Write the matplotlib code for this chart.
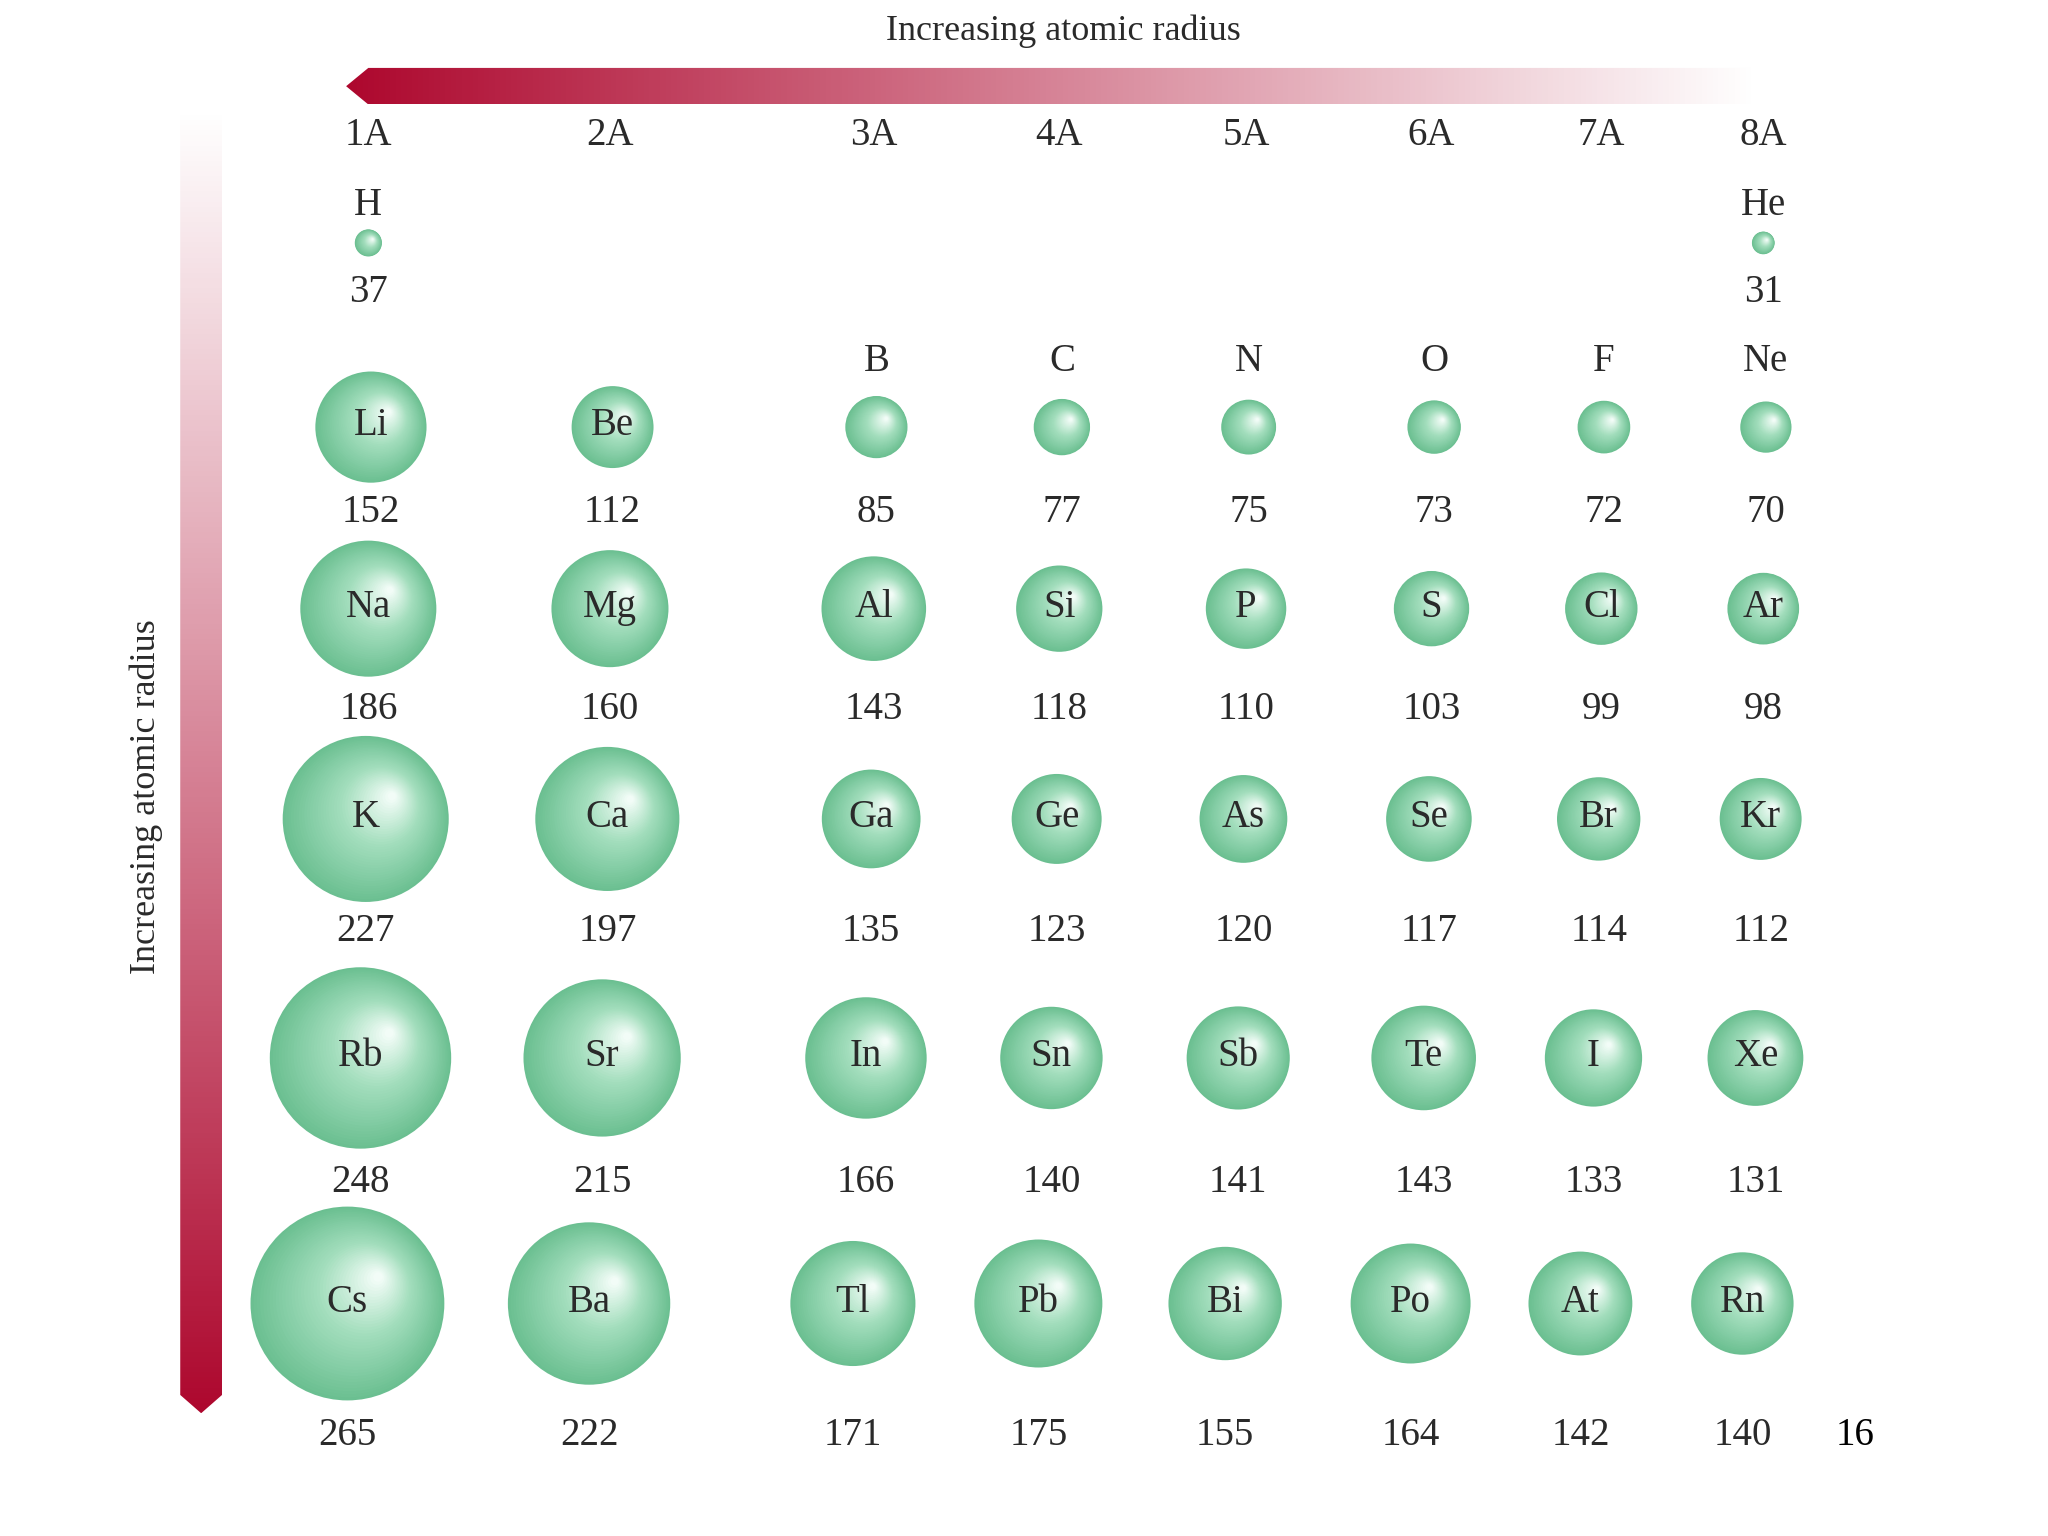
import matplotlib.pyplot as plt
import numpy as np
from matplotlib.patches import Circle, Polygon

plt.rcParams['font.family'] = ['Liberation Serif', 'DejaVu Serif']

groups = ['1A', '2A', '3A', '4A', '5A', '6A', '7A', '8A']
# rows of (column index, symbol, atomic radius in pm)
row1 = [(0, 'H', 37), (7, 'He', 31)]
row2 = [(0, 'Li', 152), (1, 'Be', 112), (2, 'B', 85), (3, 'C', 77),
        (4, 'N', 75), (5, 'O', 73), (6, 'F', 72), (7, 'Ne', 70)]
row3 = [(0, 'Na', 186), (1, 'Mg', 160), (2, 'Al', 143), (3, 'Si', 118),
        (4, 'P', 110), (5, 'S', 103), (6, 'Cl', 99), (7, 'Ar', 98)]
row4 = [(0, 'K', 227), (1, 'Ca', 197), (2, 'Ga', 135), (3, 'Ge', 123),
        (4, 'As', 120), (5, 'Se', 117), (6, 'Br', 114), (7, 'Kr', 112)]
row5 = [(0, 'Rb', 248), (1, 'Sr', 215), (2, 'In', 166), (3, 'Sn', 140),
        (4, 'Sb', 141), (5, 'Te', 143), (6, 'I', 133), (7, 'Xe', 131)]
row6 = [(0, 'Cs', 265), (1, 'Ba', 222), (2, 'Tl', 171), (3, 'Pb', 175),
        (4, 'Bi', 155), (5, 'Po', 164), (6, 'At', 142), (7, 'Rn', 140)]
rows = [row1, row2, row3, row4, row5, row6]

# layout (canvas pixels)
col_x = [282, 467, 669, 811, 954, 1096, 1226, 1350]
row_shift = [0, 2, 0, -2, -6, -16]
ball_y = [186, 327, 466, 627, 810, 998]
num_y = [224, 392, 543, 713, 905, 1099]
scale = 0.28

fig = plt.figure(figsize=(20.48, 15.36), dpi=100)
ax = fig.add_axes([0, 0, 1, 1])
ax.set_xlim(0, 1568)
ax.set_ylim(1176, 0)
ax.axis('off')

fs = 28
txt = '#2a2a2a'

edge = np.array([0.42, 0.75, 0.57])
mid = np.array([0.64, 0.87, 0.74])
hi = np.array([0.95, 0.99, 0.97])

def sphere(x, y, r):
    n = 40
    for i in range(n):
        t = i / (n - 1)
        rr = r * (1 - 0.95 * t)
        off = 0.42 * r * t
        if t < 0.55:
            c = edge * (1 - t / 0.55) + mid * (t / 0.55)
        else:
            s = (t - 0.55) / 0.45
            c = mid * (1 - s) + hi * s
        ax.add_patch(Circle((x + off * 0.75, y - off * 0.65), rr, color=c, lw=0,
                            zorder=2 + i * 0.01))

for ri, row in enumerate(rows):
    for ci, sym, rad in row:
        x = col_x[ci] + row_shift[ri]
        y = ball_y[ri]
        r = rad * scale
        sphere(x, y, r)
        if ri == 0:
            ax.text(x, 157, sym, ha='center', va='center', fontsize=fs, color=txt)
        elif ri == 1 and ci >= 2:
            ax.text(x, 277, sym, ha='center', va='center', fontsize=fs, color=txt)
        else:
            ax.text(x, y - 1, sym, ha='center', va='center', fontsize=fs, color=txt, zorder=5)
        ax.text(x, num_y[ri], str(rad), ha='center', va='center', fontsize=fs, color=txt)

for x, g in zip(col_x, groups):
    ax.text(x, 104, g, ha='center', va='center', fontsize=fs, color=txt)

# gradient arrows
crimson = np.array([0.68, 0.03, 0.18])
white = np.array([1.0, 1.0, 1.0])

grad_h = np.linspace(0, 1, 256)[None, :, None]
img_h = crimson * (1 - grad_h) + white * grad_h
im = ax.imshow(img_h, extent=[265, 1345, 80, 52], aspect='auto', zorder=1)
poly_h = Polygon([[265, 66], [282, 52], [1345, 52], [1345, 80], [282, 80]], closed=True,
                 transform=ax.transData, fc='none', ec='none')
ax.add_patch(poly_h)
im.set_clip_path(poly_h)

grad_v = np.linspace(0, 1, 256)[:, None, None]
img_v = white * (1 - grad_v) + crimson * grad_v
im2 = ax.imshow(img_v, extent=[138, 170, 1082, 85], aspect='auto', zorder=1)
poly_v = Polygon([[138, 85], [170, 85], [170, 1068], [154, 1082], [138, 1068]], closed=True,
                 transform=ax.transData, fc='none', ec='none')
ax.add_patch(poly_v)
im2.set_clip_path(poly_v)
ax.set_xlim(0, 1568)
ax.set_ylim(1176, 0)

ax.text(814, 24, 'Increasing atomic radius', ha='center', va='center', fontsize=26, color=txt)
ax.text(112, 610, 'Increasing atomic radius', ha='center', va='center', fontsize=26,
        color=txt, rotation=90)
ax.text(1420, 1099, '16', ha='center', va='center', fontsize=28, color='black')

fig.savefig('out.png', dpi=100)
